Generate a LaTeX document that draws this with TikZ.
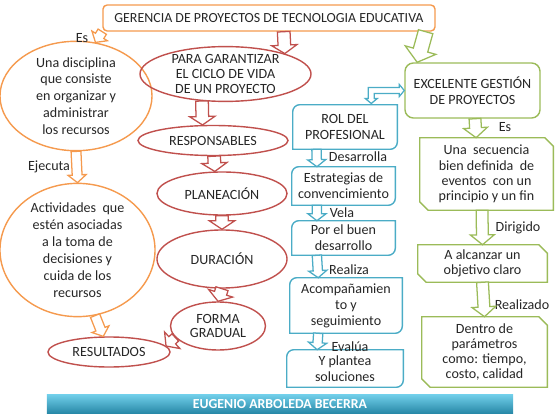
\documentclass[tikz,border=0pt]{standalone}
\usepackage{fontspec}
\setmainfont{Carlito}
\usetikzlibrary{shapes.geometric}
\usetikzlibrary{calc}
\definecolor{naranja}{HTML}{F59A4E}
\definecolor{rojo}{HTML}{C0504D}
\definecolor{azul}{HTML}{4BACC6}
\definecolor{verde}{HTML}{9BBB59}
\definecolor{barraA}{HTML}{6FCDE8}
\definecolor{barraB}{HTML}{2889A8}
\tikzset{
    blk/.style n args={3}{fill=white, line width=0.9pt, line join=miter,
      to path={let \p1=($(\tikztotarget)!#3!(\tikztostart)$) in
        ($(\tikztostart)!#1!90:(\tikztotarget)$) -- ($(\p1)!#1!90:(\tikztotarget)$)
        -- ($(\p1)!#2!90:(\tikztotarget)$) -- (\tikztotarget)
        -- ($(\p1)!#2!-90:(\tikztotarget)$) -- ($(\p1)!#1!-90:(\tikztotarget)$)
        -- ($(\tikztostart)!#1!-90:(\tikztotarget)$) -- cycle}},
    mynodeo/.style = {ellipse, draw=naranja, line width=1pt, inner sep=0pt, align=center,
      font=\fontsize{10}{12}\selectfont},
    mynoder/.style = {ellipse, draw=rojo, line width=1pt, inner sep=0pt, align=center,
      font=\fontsize{10}{10.5}\selectfont},
    boxb/.style = {rectangle, inner sep=0pt, align=center, font=\fontsize{10}{11.3}\selectfont,
      append after command={\pgfextra{\draw[azul, line width=1pt]
        (\tikzlastnode.west) [rounded corners=5pt] -- (\tikzlastnode.north west) -- (\tikzlastnode.north)
        [sharp corners] -- (\tikzlastnode.north east) -- (\tikzlastnode.east)
        [rounded corners=5pt] -- (\tikzlastnode.south east) -- (\tikzlastnode.south)
        [sharp corners] -- (\tikzlastnode.south west) -- cycle;}}},
    boxg/.style = {rectangle, inner sep=0pt, align=center, font=\fontsize{10}{10.8}\selectfont,
      append after command={\pgfextra{\draw[verde, line width=1pt]
        (\tikzlastnode.north west) -- ([xshift=-6pt]\tikzlastnode.north east)
        -- ([yshift=-6pt]\tikzlastnode.north east) -- (\tikzlastnode.south east)
        -- ([xshift=6pt]\tikzlastnode.south west) -- ([yshift=6pt]\tikzlastnode.south west) -- cycle;}}},
    lbl/.style = {inner sep=1pt},
    edgeo/.style = {blk={3.5pt}{6.5pt}{5.5pt}, draw=naranja},
    edger/.style = {blk={4.5pt}{9pt}{6pt}, draw=rojo},
    edgeb/.style = {blk={3.3pt}{6.5pt}{5pt}, draw=azul},
    edgeg/.style = {blk={4.2pt}{8.5pt}{7pt}, draw=verde},
    edgegg/.style = {blk={5.3pt}{11.3pt}{9pt}, draw=verde}
}

\begin{document}
\begin{tikzpicture}[x=0.025cm, y=-0.025cm, font=\fontsize{10}{11.5}\selectfont, text=black!85]
  \useasboundingbox (0,0) rectangle (560,420);

  \node[draw=naranja, line width=1pt, rounded corners=3pt, minimum width=8.3cm, minimum height=0.65cm,
    inner sep=0pt, font=\fontsize{9.9}{11}\selectfont] (title) at (269,18) {GERENCIA DE PROYECTOS DE TECNOLOGIA EDUCATIVA};

  % izquierda
  \node[mynodeo, minimum width=3.8cm, minimum height=2.65cm] (dis) at (76,96) {Una disciplina\\que consiste\\en organizar y\\administrar\\los recursos};
  \node[mynodeo, minimum width=3.875cm, minimum height=3.3cm] (act) at (77.5,250) {Actividades~ que\\estén asociadas\\a la toma de\\decisiones y\\cuida de los\\recursos};
  \node[ellipse, draw=rojo, line width=1pt, inner sep=0pt, minimum width=3.05cm, minimum height=0.75cm] (res) at (109,352) {RESULTADOS};

  % centro
  \node[mynoder, minimum width=4.275cm, minimum height=1.35cm] (gar) at (225.5,74) {PARA GARANTIZAR\\EL CICLO DE VIDA\\DE UN PROYECTO};
  \node[mynoder, minimum width=3.75cm, minimum height=0.75cm] (resp) at (213,140.5) {RESPONSABLES};
  \node[mynoder, minimum width=3.25cm, minimum height=1.075cm] (plan) at (222,193.5) {PLANEACIÓN};
  \node[mynoder, minimum width=3.25cm, minimum height=1.45cm] (dur) at (222,259) {DURACIÓN};
  \node[mynoder, minimum width=2.375cm, minimum height=1.2cm] (forma) at (218,326) {FORMA\\GRADUAL};

  % azul
  \node[boxb, minimum width=2.6cm, minimum height=1.1cm] (rol) at (345,127) {ROL DEL\\PROFESIONAL};
  \node[boxb, minimum width=2.575cm, minimum height=0.95cm] (est) at (343.5,186) {Estrategias de\\convencimiento};
  \node[boxb, minimum width=2.575cm, minimum height=0.85cm] (buen) at (343.5,238) {Por el buen\\desarrollo};
  \node[boxb, minimum width=2.8cm, minimum height=1.375cm] (aco) at (346,305.5) {Acompañamien\\to y\\seguimiento};
  \node[boxb, minimum width=2.9cm, minimum height=0.925cm] (plt) at (345,368.5) {Y plantea\\soluciones};

  % verde
  \node[draw=verde, line width=1pt, rounded corners=6pt, align=center, inner sep=0pt,
    minimum width=3.375cm, minimum height=1.375cm, font=\fontsize{10}{11.5}\selectfont] (exc) at (472.5,90.5) {EXCELENTE GESTIÓN\\DE PROYECTOS};
  \node[boxg, minimum width=3.325cm, minimum height=1.8cm] (sec) at (486.5,174) {Una~ secuencia\\bien definida~ de\\eventos~ con un\\principio y un fin};
  \node[boxg, minimum width=3.225cm, minimum height=0.925cm] (alc) at (482.5,263.5) {A alcanzar un\\objetivo claro};
  \node[boxg, minimum width=3.125cm, minimum height=1.75cm] (den) at (484.5,352) {Dentro de\\parámetros\\como: tiempo,\\costo, calidad};

  \node[minimum width=11.65cm, minimum height=0.45cm, inner sep=0pt, top color=barraA, bottom color=barraB,
    text=white, font=\fontsize{9.8}{11}\selectfont\bfseries] (autor) at (280,404) {EUGENIO ARBOLEDA BECERRA};

  % etiquetas
  \node[lbl] (l1) at (82,38) {Es};
  \node[lbl] (l2) at (49,167) {Ejecuta};
  \node[lbl] (l3) at (358,157) {Desarrolla};
  \node[lbl] (l4) at (342,213) {Vela};
  \node[lbl] (l5) at (349,270) {Realiza};
  \node[lbl] (l6) at (350,347) {Evalúa};
  \node[lbl] (l7) at (505,127) {Es};
  \node[lbl] (l8) at (518,228) {Dirigido};
  \node[lbl] (l9) at (522,305) {Realizado};

  % flechas
  \draw[edgeo] (title.south west) to (dis.70);
  \draw[edgeo] (dis.south) to (act.north);
  \draw[edgeo] (act.-75) to (res.110);
  \draw[edger] (title.-43) to (gar.19);
  \draw[edger] (gar.-131) to (resp.124);
  \draw[edger] (resp.-86) to (plan.108);
  \draw[edger] (plan.south) to (dur.north);
  \draw[edger] (dur.south) to (forma.north);
  \draw[blk={3.5pt}{8pt}{6pt}, draw=rojo] (forma.195) to (res.6);
  \draw[edgeb] (rol.-142) to (est.144);
  \draw[edgeb] (est.-144) to (buen.147);
  \draw[edgeb] (buen.-147) to (aco.135);
  \draw[edgeb] (aco.-135) to (plt.146);
  \draw[azul, fill=white, line width=0.9pt] (exc.west) -- ++(-5,-6) -- ++(0,3) -- ++(-31,0) -- ++(0,11)
    -- ++(-3,0) -- ++(6,5) -- ++(6,-5) -- ++(-3,0) -- ++(0,-5) -- ++(25,0) -- ++(0,3) -- cycle;
  \draw[edgegg] (title.-5) to (exc.153);
  \draw[edgeg] (exc.-85) to (sec.106);
  \draw[edgeg] (sec.-97) to (alc.north);
  \draw[edgeg] (alc.south) to (den.north);
\end{tikzpicture}
\end{document}
